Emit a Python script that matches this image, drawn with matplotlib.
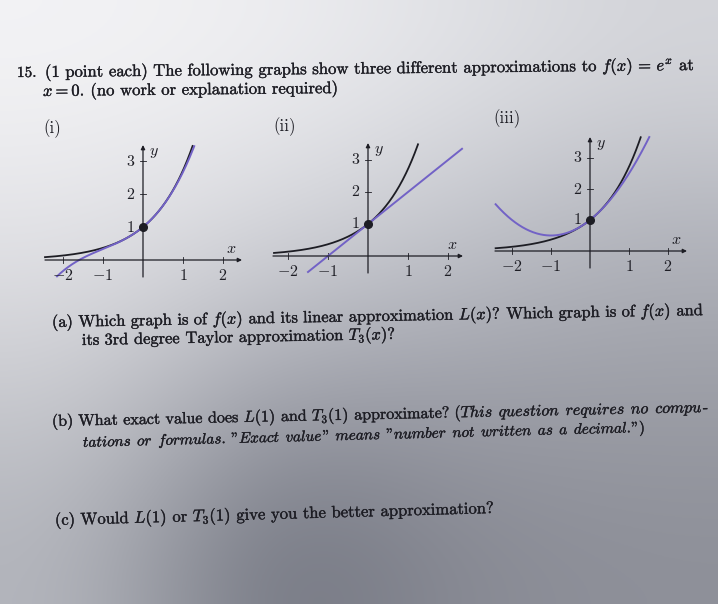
import numpy as np
import matplotlib
matplotlib.use("Agg")
import matplotlib.pyplot as plt
import matplotlib.patheffects as pe

plt.rcParams['mathtext.fontset'] = 'cm'
plt.rcParams['font.family'] = ['cmr10', 'DejaVu Serif']

W, H = 718, 604

# ---- data -------------------------------------------------------------
# Taylor coefficients of e^x about x = 0
taylor_coefs = [1.0, 1.0, 0.5, 1.0 / 6.0]
panel_names = ['(i)', '(ii)', '(iii)']
approx_degree = [3, 1, 2]            # purple curve in each panel
exp_x_range = [(-2.45, 1.24), (-2.35, 1.25), (-2.42, 1.30)]
approx_x_range = [(-2.15, 1.28), (-1.5, 2.35), (-2.42, 1.52)]
x_ticks = [-2, -1, 1, 2]
y_ticks = [1, 2, 3]
x_tick_labels = ['$-2$', '$-1$', '$1$', '$2$']
y_tick_labels = ['$1$', '$2$', '$3$']

# panel geometry in reference pixels: origin, unit size, frame
panels = [
    dict(ox=143, oy=260, ux=40, uy=33, left=45, right=242, top=145, bottom=277, lx=43, ly=133),
    dict(ox=368, oy=256, ux=40, uy=32, left=273, right=463, top=143, bottom=273, lx=273, ly=131),
    dict(ox=590, oy=251, ux=39, uy=31, left=495, right=687, top=137, bottom=268, lx=493, ly=123),
]

INK = '#1d1d24'
PURPLE = '#7262c6'
BOLDER = [pe.withStroke(linewidth=0.25, foreground=INK)]

fig = plt.figure(figsize=(W / 100, H / 100), dpi=100)

# photographed paper: light at the top left, darker grey lower down
bg = np.array([
    [[243, 243, 245], [238, 238, 241], [226, 227, 231], [212, 213, 218]],
    [[228, 228, 232], [214, 215, 220], [196, 198, 205], [178, 180, 188]],
    [[205, 206, 211], [165, 167, 176], [160, 162, 171], [158, 160, 168]],
    [[180, 182, 189], [110, 113, 124], [136, 138, 148], [142, 144, 153]],
]) / 255.0
bga = fig.add_axes([0, 0, 1, 1], zorder=-10)
bga.imshow(bg, aspect='auto', interpolation='bicubic', extent=[0, 1, 0, 1])
bga.axis('off')


def fpos(x, y):
    return x / W, 1 - y / H


# ---- graphs -----------------------------------------------------------
for k, p in enumerate(panels):
    ax = fig.add_axes([p['left'] / W, 1 - p['bottom'] / H,
                       (p['right'] - p['left']) / W, (p['bottom'] - p['top']) / H])
    ax.patch.set_alpha(0)
    ax.axis('off')
    x0, x1 = (p['left'] - p['ox']) / p['ux'], (p['right'] - p['ox']) / p['ux']
    y0, y1 = (p['oy'] - p['bottom']) / p['uy'], (p['oy'] - p['top']) / p['uy']
    ax.set_xlim(x0, x1)
    ax.set_ylim(y0, y1)
    dx, dy = 1 / p['ux'], 1 / p['uy']   # one pixel in data units

    arrow = dict(arrowstyle='-|>', lw=0.9, color=INK, mutation_scale=6,
                 shrinkA=0, shrinkB=0)
    ax.annotate('', xy=(x1, 0), xytext=(x0, 0), arrowprops=arrow, annotation_clip=False)
    ax.annotate('', xy=(0, y1), xytext=(0, y0), arrowprops=arrow, annotation_clip=False)

    for t, lab in zip(x_ticks, x_tick_labels):
        ax.plot([t, t], [-3 * dy, 3 * dy], color=INK, lw=0.6, clip_on=False)
        ax.text(t, -8 * dy, lab, ha='center', va='top', fontsize=11.5, color=INK)
    for t, lab in zip(y_ticks, y_tick_labels):
        ax.plot([-3 * dx, 3 * dx], [t, t], color=INK, lw=0.6, clip_on=False)
        ax.text(-8 * dx, t, lab, ha='right', va='center', fontsize=11.5, color=INK)
    ax.text(6 * dx, y1 - 8 * dy, '$y$', ha='left', va='center', fontsize=11.5, color=INK)
    ax.text(x1 - 11 * dx, 11 * dy, '$x$', ha='center', va='center', fontsize=11.5, color=INK)

    xs = np.linspace(*exp_x_range[k], 300)
    ax.plot(xs, np.exp(xs), color=INK, lw=1.3, clip_on=False)
    xa = np.linspace(*approx_x_range[k], 300)
    ax.plot(xa, np.polyval(taylor_coefs[:approx_degree[k] + 1][::-1], xa),
            color=PURPLE, lw=1.4, clip_on=False)
    ax.plot([0], [1], 'o', color=INK, ms=5.5, clip_on=False, zorder=5)

    fig.text(*fpos(p['lx'], p['ly']), panel_names[k], fontsize=12, color=INK,
             ha='left', va='baseline')


# ---- question text ----------------------------------------------------
def split_words(s):
    # split on spaces that are not inside $...$
    words, cur, in_math = [], '', False
    for ch in s:
        if ch == '$':
            in_math = not in_math
        if ch == ' ' and not in_math:
            if cur:
                words.append(cur)
            cur = ''
        else:
            cur += ch
    if cur:
        words.append(cur)
    return words


def tokens(pieces):
    # pieces: (text, kind, space_after) -> list of (word, space_after)
    out = []
    for text, kind, gap in pieces:
        ws = split_words(text)
        for i, w in enumerate(ws):
            if kind == 'it':
                w = '$\\mathit{' + w + '}$'
            out.append((w, gap if i == len(ws) - 1 else True))
    return out


def token_widths(toks, size):
    r = fig.canvas.get_renderer()
    out = []
    for s, gap in toks:
        t = fig.text(0, 0, s, fontsize=size)
        w = t.get_window_extent(r).width
        t.remove()
        out.append(w + (0.333 * size * 100 / 72 if gap else 0))
    return out


def write_line(start, end, pieces, size=None):
    (xa, ya), (xb, yb) = start, end
    ang = np.degrees(np.arctan2(ya - yb, xb - xa))
    toks = tokens(pieces)
    if size is None:
        base = token_widths(toks, 10)
        size = 10 * np.hypot(xb - xa, yb - ya) / sum(base)
    widths = token_widths(toks, size)
    c, s_ = np.cos(np.radians(ang)), np.sin(np.radians(ang))
    cx, cy = xa, ya
    for (txt, gap), w in zip(toks, widths):
        fig.text(*fpos(cx, cy), txt, fontsize=size, rotation=ang, rotation_mode='anchor',
                 ha='left', va='baseline', color=INK, path_effects=BOLDER)
        cx += w * c
        cy -= w * s_
    return size


fig.text(*fpos(17, 77), '15.', fontsize=11, rotation=0.6, rotation_mode='anchor',
         ha='left', va='baseline', color=INK, path_effects=BOLDER)
s1 = write_line((45, 77), (693, 70),
                [('(1 point each) The following graphs show three different approximations to '
                  '$f(x)\\,=\\,e^x$ at', 'rm', False)])
write_line((43, 96), (336, 93), [('$x = 0$. (no work or explanation required)', 'rm', False)],
           size=s1)

sa = write_line((52, 327), (705, 315),
                [('(a) Which graph is of $f(x)$ and its linear approximation $L(x)$? '
                  'Which graph is of $f(x)$ and', 'rm', False)])
write_line((82, 345), (395, 339),
           [('its 3rd degree Taylor approximation $T_3(x)$?', 'rm', False)], size=sa)

write_line((52, 426), (711, 412),
           [('(b) What exact value does $L(1)$ and $T_3(1)$ approximate?', 'rm', True),
            ('(', 'rm', False), ('This question requires no compu', 'it', False),
            ('-', 'rm', False)])
write_line((83, 447), (648, 432),
           [('tations or formulas.', 'it', True), ('"', 'rm', False), ('Exact value', 'it', False),
            ('"', 'rm', True), ('means', 'it', True), ('"', 'rm', False),
            ('number not written as a decimal.', 'it', False), ('")', 'rm', False)])

write_line((55, 525), (494, 513),
           [('(c) Would $L(1)$ or $T_3(1)$ give you the better approximation?', 'rm', False)])

fig.savefig('out.png', dpi=100)
